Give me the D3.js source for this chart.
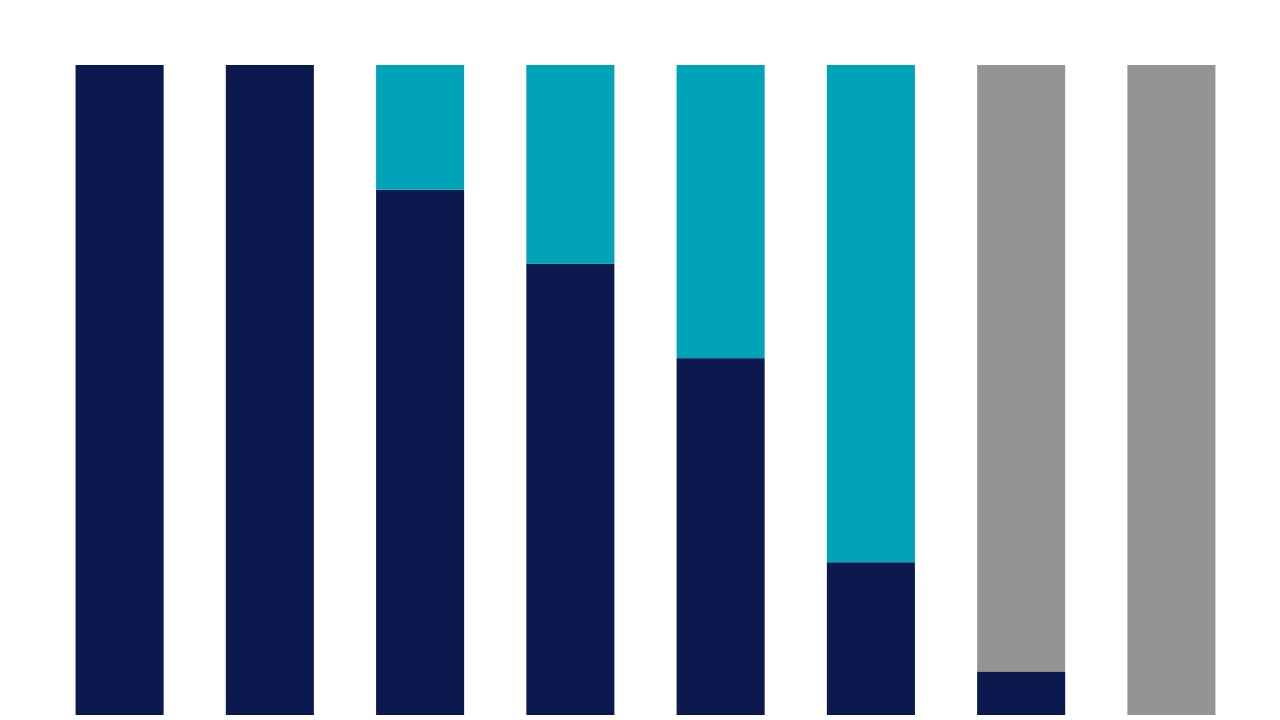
<!DOCTYPE html>
<html>
<head>
<meta charset="utf-8">
<script src="https://cdn.jsdelivr.net/npm/d3@7"></script>
<style>
  html, body { margin: 0; padding: 0; background: #fff; }
</style>
</head>
<body>
<svg id="chart"></svg>
<script>
var width = 1280,
    height = 720;

// share of each bar, in percent
var categories = ['A', 'B', 'C', 'D', 'E', 'F', 'G', 'H'];
var navyValues = [100, 100, 80.8, 69.4, 54.9, 23.5, 6.7, 0];
var tealValues = [0, 0, 19.2, 30.6, 45.1, 76.5, 0, 0];
var grayValues = [0, 0, 0, 0, 0, 0, 93.3, 100];

var seriesKeys = ['navy', 'teal', 'gray'];
var colors = {
    navy: '#0b194f',
    teal: '#00a3b7',
    gray: '#949494'
};

var rows = categories.map(function (c, i) {
    return { cat: c, navy: navyValues[i], teal: tealValues[i], gray: grayValues[i] };
});

var MARGIN = {
    TOP: 65,
    BOTTOM: 5
};

var xScale = d3.scaleBand()
    .domain(categories)
    .range([38, 1253])
    .paddingInner(0.414)
    .paddingOuter(0.25);

var yScale = d3.scaleLinear()
    .domain([0, 100])
    .range([height - MARGIN.BOTTOM, MARGIN.TOP]);

var svg = d3.select('#chart')
    .attr('width', width)
    .attr('height', height);

var stack = d3.stack().keys(seriesKeys);
var layers = stack(rows);

svg.selectAll('g.layer')
    .data(layers)
    .enter()
    .append('g')
    .attr('class', 'layer')
    .attr('fill', function (d) { return colors[d.key]; })
    .selectAll('rect')
    .data(function (d) { return d; })
    .enter()
    .append('rect')
    .attr('x', function (d) { return xScale(d.data.cat); })
    .attr('width', xScale.bandwidth())
    .attr('y', function (d) { return yScale(d[1]); })
    .attr('height', function (d) { return yScale(d[0]) - yScale(d[1]); });
</script>
</body>
</html>
